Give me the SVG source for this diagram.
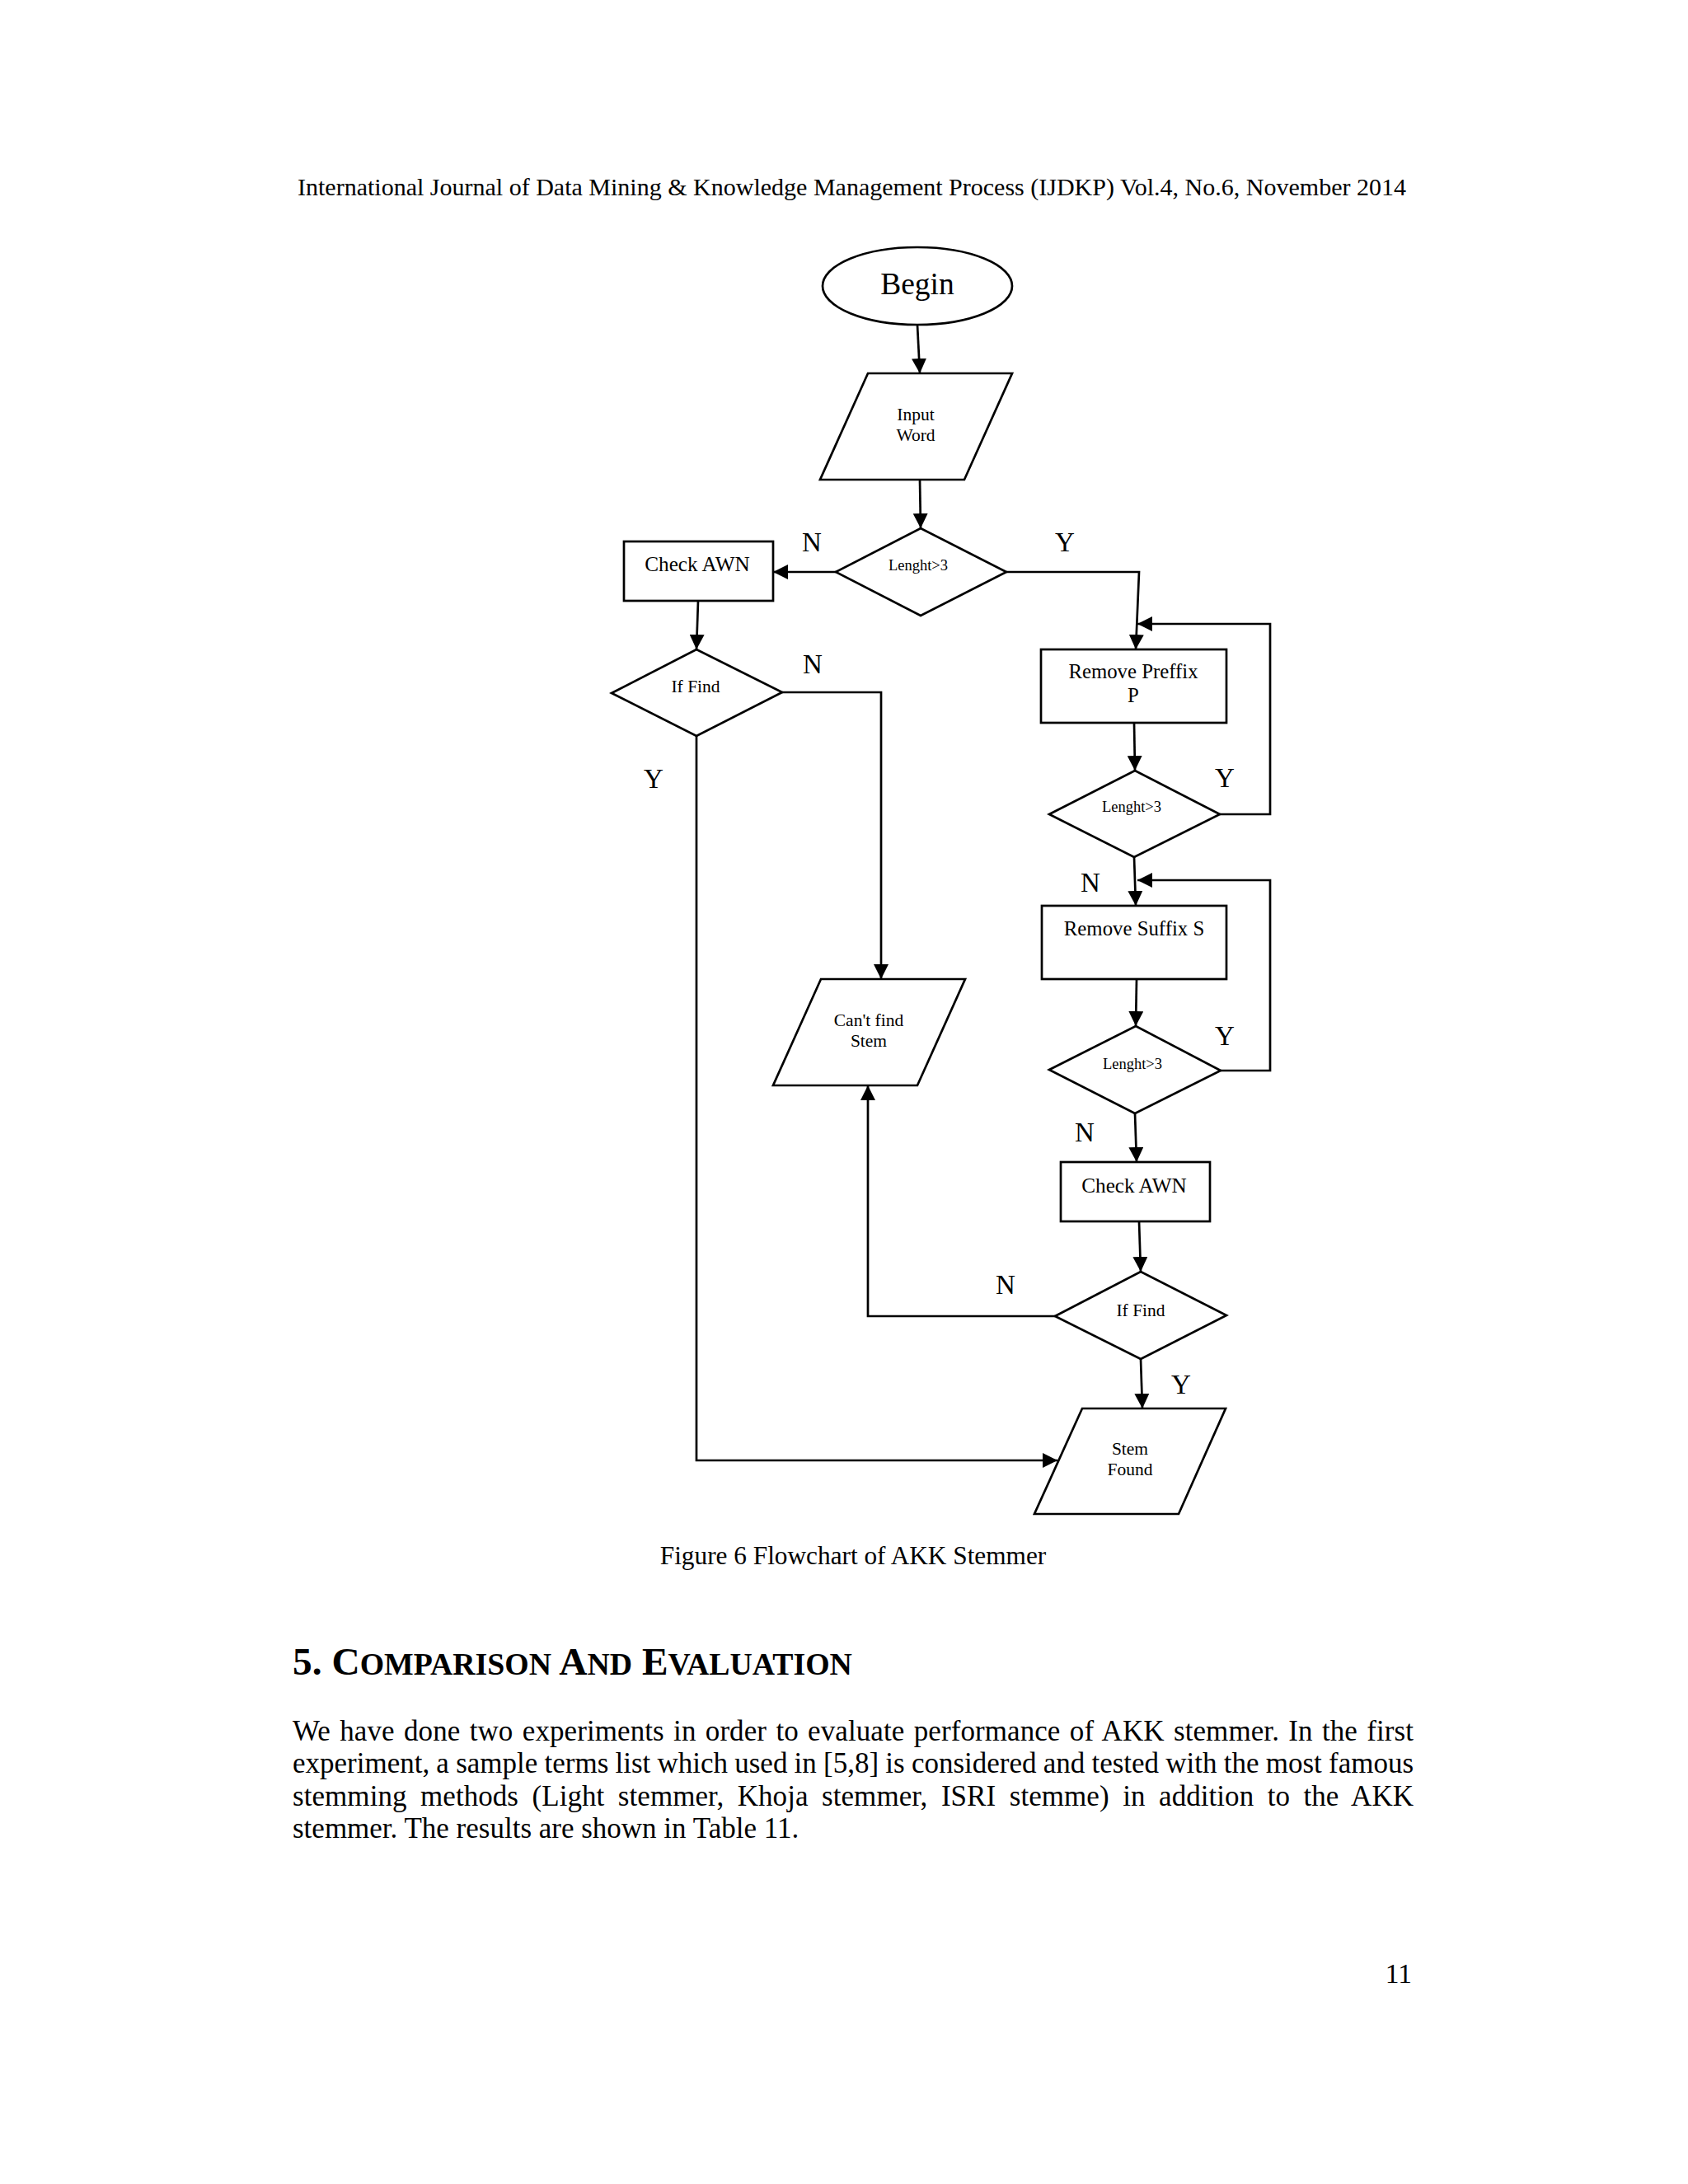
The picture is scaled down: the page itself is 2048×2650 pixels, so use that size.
<svg xmlns="http://www.w3.org/2000/svg" width="2048" height="2650" viewBox="0 0 2048 2650">
<style>
.shape{fill:#fff;stroke:#000;stroke-width:2.7;stroke-linejoin:miter}
.conn{fill:none;stroke:#000;stroke-width:2.7;stroke-linejoin:miter}
.t{font-family:"Liberation Serif","Times New Roman",serif;fill:#000}
.lbl{font-family:"Liberation Serif","Times New Roman",serif;font-size:33px;fill:#000;text-anchor:middle}
.nt{font-family:"Liberation Serif","Times New Roman",serif;fill:#000;text-anchor:middle}
</style>
<defs>
<marker id="arr" viewBox="0 0 18 18" refX="18" refY="9" markerWidth="18" markerHeight="18" markerUnits="userSpaceOnUse" orient="auto">
<path d="M0,0 L18,9 L0,18 z" fill="#000"/>
</marker>
</defs>
<rect width="2048" height="2650" fill="#fff"/>

<text class="t" x="361" y="237" font-size="30" textLength="1345" lengthAdjust="spacingAndGlyphs">International Journal of Data Mining &amp; Knowledge Management Process (IJDKP) Vol.4, No.6, November 2014</text>

<g id="connectors">
<line class="conn" x1="1113" y1="394" x2="1116" y2="453" marker-end="url(#arr)"/>
<line class="conn" x1="1116" y1="582" x2="1117" y2="641" marker-end="url(#arr)"/>
<line class="conn" x1="1014" y1="694" x2="938" y2="694" marker-end="url(#arr)"/>
<path class="conn" d="M1221,694 H1382 L1378,788" marker-end="url(#arr)"/>
<line class="conn" x1="847" y1="729" x2="845" y2="788" marker-end="url(#arr)"/>
<path class="conn" d="M949,840 H1069 V1188" marker-end="url(#arr)"/>
<path class="conn" d="M845,893 V1772 H1283" marker-end="url(#arr)"/>
<line class="conn" x1="1376" y1="877" x2="1377" y2="935" marker-end="url(#arr)"/>
<path class="conn" d="M1480,988 H1541 V757 H1380" marker-end="url(#arr)"/>
<line class="conn" x1="1376" y1="1040" x2="1378" y2="1099" marker-end="url(#arr)"/>
<line class="conn" x1="1379" y1="1188" x2="1378" y2="1245" marker-end="url(#arr)"/>
<path class="conn" d="M1481,1299 H1541 V1068 H1380" marker-end="url(#arr)"/>
<line class="conn" x1="1377" y1="1351" x2="1379" y2="1410" marker-end="url(#arr)"/>
<line class="conn" x1="1382" y1="1482" x2="1384" y2="1543" marker-end="url(#arr)"/>
<path class="conn" d="M1280,1597 H1053 V1317" marker-end="url(#arr)"/>
<line class="conn" x1="1384" y1="1649" x2="1386" y2="1709" marker-end="url(#arr)"/>
<g id="connector-labels">
<text class="lbl" x="985" y="669">N</text>
<text class="lbl" x="1292" y="669">Y</text>
<text class="lbl" x="986" y="817">N</text>
<text class="lbl" x="793" y="956">Y</text>
<text class="lbl" x="1486" y="955">Y</text>
<text class="lbl" x="1323" y="1082">N</text>
<text class="lbl" x="1486" y="1268">Y</text>
<text class="lbl" x="1316" y="1385">N</text>
<text class="lbl" x="1220" y="1570">N</text>
<text class="lbl" x="1433" y="1691">Y</text>
</g>
</g>

<g id="begin">
<ellipse class="shape" cx="1113" cy="347" rx="115" ry="47"/>
<text class="nt" x="1113" y="357" font-size="37.5">Begin</text>
</g>
<g id="input-word">
<polygon class="shape" points="1053,453 1228,453 1170,582 995,582"/>
<text class="nt" x="1111" y="510" font-size="21.5">Input</text>
<text class="nt" x="1111" y="535" font-size="21.5">Word</text>
</g>
<g id="length-check-1">
<polygon class="shape" points="1014,694 1117,641 1221,694 1117,747"/>
<text class="nt" x="1114" y="692" font-size="18.5">Lenght&gt;3</text>
</g>
<g id="check-awn-1">
<rect class="shape" x="757" y="657" width="181" height="72"/>
<text class="nt" x="846" y="693" font-size="25.2">Check AWN</text>
</g>
<g id="if-find-1">
<polygon class="shape" points="742,841 845,788 949,840 845,893"/>
<text class="nt" x="844" y="840" font-size="21.5">If Find</text>
</g>
<g id="remove-prefix">
<rect class="shape" x="1263" y="788" width="225" height="89"/>
<text class="nt" x="1375" y="823" font-size="24.8">Remove Preffix</text>
<text class="nt" x="1375" y="852" font-size="24.8">P</text>
</g>
<g id="length-check-2">
<polygon class="shape" points="1273,988 1377,935 1480,988 1376,1040"/>
<text class="nt" x="1373" y="985" font-size="18.5">Lenght&gt;3</text>
</g>
<g id="remove-suffix">
<rect class="shape" x="1264" y="1099" width="224" height="89"/>
<text class="nt" x="1376" y="1135" font-size="24.8">Remove Suffix S</text>
</g>
<g id="length-check-3">
<polygon class="shape" points="1273,1298 1378,1245 1481,1299 1377,1351"/>
<text class="nt" x="1374" y="1297" font-size="18.5">Lenght&gt;3</text>
</g>
<g id="check-awn-2">
<rect class="shape" x="1287" y="1410" width="181" height="72"/>
<text class="nt" x="1376" y="1447" font-size="25.2">Check AWN</text>
</g>
<g id="if-find-2">
<polygon class="shape" points="1280,1597 1384,1543 1488,1596 1384,1649"/>
<text class="nt" x="1384" y="1597" font-size="21.5">If Find</text>
</g>
<g id="cant-find-stem">
<polygon class="shape" points="996,1188 1171,1188 1113,1317 938,1317"/>
<text class="nt" x="1054" y="1245" font-size="21.5">Can't find</text>
<text class="nt" x="1054" y="1270" font-size="21.5">Stem</text>
</g>
<g id="stem-found">
<polygon class="shape" points="1313,1709 1487,1709 1430,1837 1255,1837"/>
<text class="nt" x="1371" y="1765" font-size="21.5">Stem</text>
<text class="nt" x="1371" y="1790" font-size="21.5">Found</text>
</g>

<text class="t" x="1035" y="1898" font-size="31.3" text-anchor="middle">Figure 6 Flowchart of AKK Stemmer</text>

<text class="t" x="355" y="2032" font-size="47.4" font-weight="bold">5. C<tspan font-size="37.8">OMPARISON</tspan> A<tspan font-size="37.8">ND</tspan> E<tspan font-size="37.8">VALUATION</tspan></text>

<g class="t" font-size="35">
<text x="355" y="2112" word-spacing="2.5" textLength="1360" lengthAdjust="spacing">We have done two experiments in order to evaluate performance of AKK stemmer. In the first</text>
<text x="355" y="2151" word-spacing="-0.5" textLength="1360" lengthAdjust="spacing">experiment, a sample terms list which used in [5,8] is considered and tested with the most famous</text>
<text x="355" y="2191" word-spacing="7.7" textLength="1360" lengthAdjust="spacing">stemming methods (Light stemmer, Khoja stemmer, ISRI stemme) in addition to the AKK</text>
<text x="355" y="2230">stemmer. The results are shown in Table 11.</text>
</g>

<text class="t" x="1713" y="2406" font-size="33.5" text-anchor="end">11</text>
</svg>
